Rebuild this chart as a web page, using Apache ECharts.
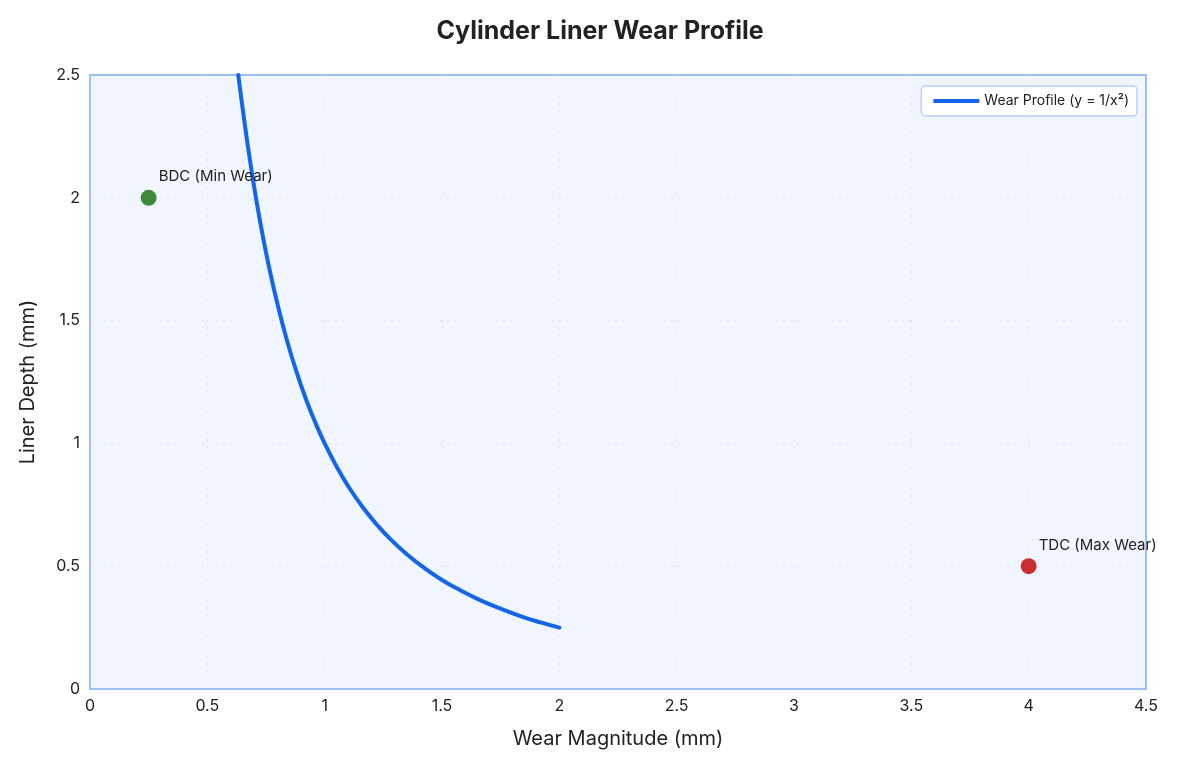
<!DOCTYPE html>
<html>
<head>
<meta charset="utf-8">
<script src="https://cdn.jsdelivr.net/npm/echarts@6/dist/echarts.min.js"></script>
<style>
  html, body { margin: 0; padding: 0; background: #fff; }
  #main { width: 1200px; height: 768px; }
</style>
</head>
<body>
<div id="main"></div>
<script>
// wear curve
const wearX = [0.632, 0.65, 0.68, 0.71, 0.74, 0.77, 0.80, 0.84, 0.88, 0.92, 0.96, 1.00,
  1.05, 1.10, 1.16, 1.22, 1.28, 1.35, 1.42, 1.50, 1.58, 1.66, 1.75, 1.84, 1.92, 2.00];
const depthY = [2.500, 2.367, 2.163, 1.984, 1.826, 1.687, 1.563, 1.417, 1.291, 1.181,
  1.085, 1.000, 0.907, 0.826, 0.743, 0.672, 0.610, 0.549, 0.496, 0.444, 0.401,
  0.363, 0.327, 0.295, 0.271, 0.250];

// marked points
const markNames = ['BDC (Min Wear)', 'TDC (Max Wear)'];
const markX = [0.25, 4.0];
const markY = [2.0, 0.5];
const markColors = ['#3f8a3a', '#c92f2f'];

const FONT = 'Inter, "Noto Sans", sans-serif';

const chart = echarts.init(document.getElementById('main'));

const dotted = {
  show: true,
  showMinLine: false,
  showMaxLine: false,
  lineStyle: { color: '#dde6f2', type: [2, 5], width: 1 }
};

chart.setOption({
  backgroundColor: '#ffffff',
  textStyle: { fontFamily: FONT },
  title: {
    text: 'Cylinder Liner Wear Profile',
    left: 'center',
    top: 14,
    textStyle: { fontFamily: FONT, fontSize: 25, fontWeight: 'bold', color: '#222' }
  },
  grid: {
    left: 90, right: 54, top: 75, bottom: 79,
    show: true,
    backgroundColor: '#f1f6fe',
    borderColor: '#9cc0f4',
    borderWidth: 2
  },
  legend: {
    top: 86,
    right: 63,
    data: [{ name: 'Wear Profile (y = 1/x²)', icon: 'rect' }],
    backgroundColor: '#ffffff',
    borderColor: '#b6d0f6',
    borderWidth: 1.5,
    borderRadius: 4,
    padding: [8, 8, 8, 12],
    itemWidth: 46,
    itemHeight: 4,
    itemGap: 12,
    textStyle: { fontFamily: FONT, fontSize: 14, color: '#222' }
  },
  xAxis: {
    type: 'value',
    min: 0, max: 4.5, interval: 0.5,
    name: 'Wear Magnitude (mm)',
    nameLocation: 'middle',
    nameGap: 40,
    nameTextStyle: { fontFamily: FONT, fontSize: 20, color: '#222' },
    axisLine: { show: false },
    axisTick: { show: false },
    axisLabel: { fontFamily: FONT, fontSize: 16, color: '#222', margin: 9 },
    splitLine: dotted
  },
  yAxis: {
    type: 'value',
    min: 0, max: 2.5, interval: 0.5,
    name: 'Liner Depth (mm)',
    nameLocation: 'middle',
    nameGap: 52,
    nameTextStyle: { fontFamily: FONT, fontSize: 20, color: '#222' },
    axisLine: { show: false },
    axisTick: { show: false },
    axisLabel: { fontFamily: FONT, fontSize: 16, color: '#222', margin: 10 },
    splitLine: dotted
  },
  series: [
    {
      name: 'Wear Profile (y = 1/x²)',
      type: 'line',
      smooth: true,
      showSymbol: false,
      symbol: 'none',
      color: '#1565e8',
      lineStyle: { width: 4, color: '#1565e8', cap: 'round' },
      data: wearX.map((x, i) => [x, depthY[i]]),
      z: 3
    },
    {
      name: 'points',
      type: 'scatter',
      symbolSize: 16,
      data: markX.map((x, i) => ({
        value: [x, markY[i]],
        name: markNames[i],
        itemStyle: { color: markColors[i], opacity: 1 }
      })),
      label: {
        show: true,
        formatter: p => p.name,
        position: 'right',
        offset: [-3, -21],
        fontFamily: FONT,
        fontSize: 15,
        color: '#222'
      },
      z: 4
    }
  ]
});
</script>
</body>
</html>
